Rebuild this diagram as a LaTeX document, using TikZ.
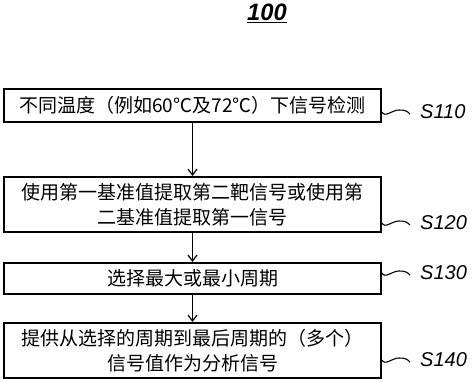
\documentclass[tikz,border=0pt]{standalone}
\usepackage{fontspec}
\setmainfont{Liberation Sans}
\newfontfamily\cjkfont{Noto Sans CJK SC}
\usetikzlibrary{arrows.meta,positioning,calc}
\tikzset{
  stepbox/.style={rectangle, draw=black, line width=1.9pt, align=center, inner sep=0pt,
    minimum width=377pt, font=\cjkfont\fontsize{19}{25}\selectfont},
  flow/.style={-{Straight Barb[length=6pt,width=9pt]}, line width=1.2pt},
  steplabel/.style={anchor=west, inner sep=0pt, font=\itshape\fontsize{20}{22}\selectfont},
  tilde/.style={line width=1.1pt},
}
\begin{document}
\begin{tikzpicture}[x=1pt,y=-1pt]
  \useasboundingbox (0,0) rectangle (474,382);
  \node[inner sep=0pt, font=\bfseries\itshape\fontsize{23.7}{26}\selectfont] (title) at (267,13) {\underline{100}};
  \node[stepbox, minimum height=33pt] (s110) at (192.5,105.5) {不同温度（例如60℃及72℃）下信号检测};
  \node[stepbox, minimum height=55pt] (s120) at (192.5,204.5) {使用第一基准值提取第二靶信号或使用第\\二基准值提取第一信号};
  \node[stepbox, minimum height=31pt] (s130) at (192.5,278.5) {选择最大或最小周期};
  \node[stepbox, minimum height=55pt] (s140) at (192.5,350.5) {提供从选择的周期到最后周期的（多个）\\信号值作为分析信号};
  \draw[flow] (s110) -- (s120);
  \draw[flow] (s120) -- (s130);
  \draw[flow] (s130) -- (s140);
  % step numbers with wavy leaders
  \foreach \n/\y in {110/112, 120/223, 130/273, 140/360} {
    \node[steplabel] (l\n) at (420,\y) {S\n};
    \draw[tilde] ($(s\n.east |- l\n.west)+(0,0)$) .. controls +(3,6) and +(-7,0) .. ++(17,-2)
      .. controls +(6,0) and +(-3,-3) .. ($(l\n.west)+(-10,2)$);
  }
\end{tikzpicture}
\end{document}
